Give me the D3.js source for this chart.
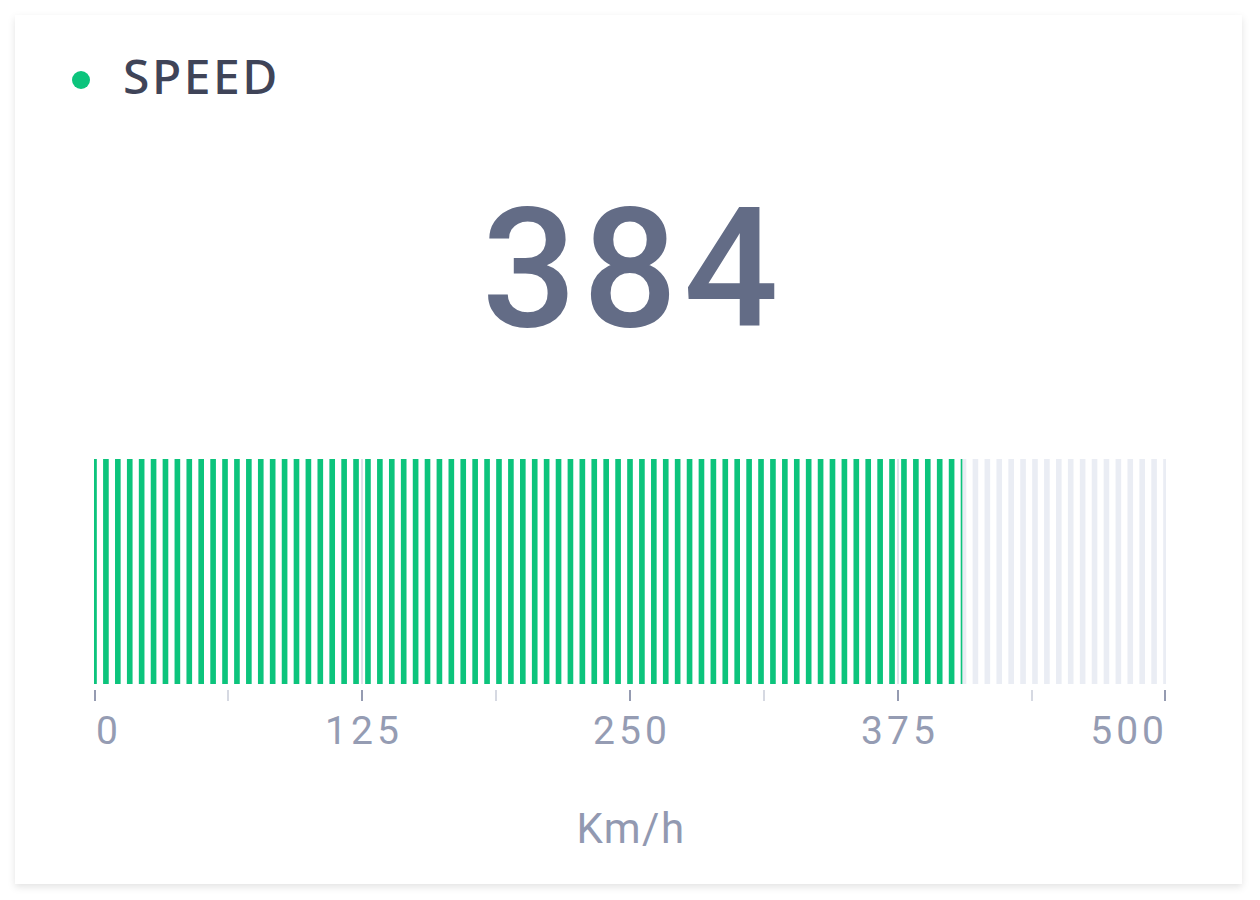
<!DOCTYPE html>
<html>
<head>
<meta charset="utf-8">
<script src="https://cdn.jsdelivr.net/npm/d3@7"></script>
<style>
  html, body { margin: 0; padding: 0; background: #ffffff; }
  svg { display: block; }
</style>
</head>
<body>
<div id="chart"></div>
<script>
// gauge data
var title = "SPEED";
var unit = "Km/h";
var speed = 384;          // readout shown in the card
var barLevel = 405;       // where the green fill stops in the picture
var scaleMax = 500;
var stripeCount = 90;
var majorTicks = [0, 125, 250, 375, 500];
var minorTicks = [62.5, 187.5, 312.5, 437.5];

var width = 1260,
  height = 900;

var svg = d3.select("#chart").append("svg")
  .attr("width", width)
  .attr("height", height);

var defs = svg.append("defs");
var shadow = defs.append("filter")
  .attr("id", "shadow")
  .attr("x", "-5%").attr("y", "-5%")
  .attr("width", "110%").attr("height", "112%");
shadow.append("feDropShadow")
  .attr("dx", 0).attr("dy", 3)
  .attr("stdDeviation", 3.5)
  .attr("flood-color", "#000")
  .attr("flood-opacity", 0.11);

// card
svg.append("rect")
  .attr("x", 15).attr("y", 15)
  .attr("width", 1227).attr("height", 869)
  .attr("fill", "#fff")
  .attr("filter", "url(#shadow)");

// header
svg.append("circle")
  .attr("cx", 81).attr("cy", 80).attr("r", 9)
  .attr("fill", "#0cc47c");
svg.append("text")
  .attr("x", 123).attr("y", 94)
  .attr("font-family", "'Noto Sans', sans-serif")
  .attr("font-weight", 500)
  .attr("font-size", 48)
  .attr("letter-spacing", 2.5)
  .attr("fill", "#3f4458")
  .text(title);

// big readout
svg.append("text")
  .attr("x", 633).attr("y", 326)
  .attr("text-anchor", "middle")
  .attr("font-family", "Roboto, sans-serif")
  .attr("font-weight", 500)
  .attr("font-size", 167)
  .attr("letter-spacing", 6)
  .attr("fill", "#636c86")
  .text(speed);

// bar
var barTop = 459,
  barBottom = 684;
var x = d3.scaleLinear().domain([0, scaleMax]).range([94, 1166]);
var step = scaleMax / stripeCount;
var stripes = d3.range(stripeCount + 1).map(function (i) { return i * step; });
var stripeW = 5.6;

defs.append("clipPath").attr("id", "barClip")
  .append("rect")
  .attr("x", x(0)).attr("y", barTop)
  .attr("width", x(scaleMax) - x(0)).attr("height", barBottom - barTop);
defs.append("clipPath").attr("id", "fillClip")
  .append("rect")
  .attr("x", x(0)).attr("y", barTop)
  .attr("width", x(barLevel) - x(0)).attr("height", barBottom - barTop);

var bar = svg.append("g");

// grid lines at the labelled values
bar.selectAll(".grid")
  .data(majorTicks.slice(1, -1))
  .enter().append("line")
  .attr("class", "grid")
  .attr("x1", function (d) { return x(d); })
  .attr("x2", function (d) { return x(d); })
  .attr("y1", barTop).attr("y2", barBottom)
  .attr("stroke", "#dfe2ea")
  .attr("stroke-width", 2);

bar.append("g").attr("clip-path", "url(#barClip)")
  .selectAll("rect")
  .data(stripes)
  .enter().append("rect")
  .attr("x", function (d) { return x(d) - stripeW / 2; })
  .attr("y", barTop)
  .attr("width", stripeW)
  .attr("height", barBottom - barTop)
  .attr("fill", "#eaedf4");

bar.append("g").attr("clip-path", "url(#fillClip)")
  .append("g").attr("clip-path", "url(#barClip)")
  .selectAll("rect")
  .data(stripes)
  .enter().append("rect")
  .attr("x", function (d) { return x(d) - stripeW / 2; })
  .attr("y", barTop)
  .attr("width", stripeW)
  .attr("height", barBottom - barTop)
  .attr("fill", "#0cc47c");

// axis
var axisG = svg.append("g").attr("transform", "translate(0," + 690 + ")");

axisG.selectAll(".minor")
  .data(minorTicks)
  .enter().append("line")
  .attr("class", "minor")
  .attr("x1", function (d) { return x(d); })
  .attr("x2", function (d) { return x(d); })
  .attr("y1", 0).attr("y2", 11)
  .attr("stroke", "#d6d9e2")
  .attr("stroke-width", 2);

axisG.selectAll(".major")
  .data(majorTicks)
  .enter().append("line")
  .attr("class", "major")
  .attr("x1", function (d, i) { return x(d) + (i === 0 ? 1 : i === majorTicks.length - 1 ? -1 : 0); })
  .attr("x2", function (d, i) { return x(d) + (i === 0 ? 1 : i === majorTicks.length - 1 ? -1 : 0); })
  .attr("y1", 0).attr("y2", 11)
  .attr("stroke", "#959bb1")
  .attr("stroke-width", 2);

axisG.selectAll(".label")
  .data(majorTicks)
  .enter().append("text")
  .attr("class", "label")
  .attr("x", function (d) { return x(d) + 2; })
  .attr("y", 54)
  .attr("text-anchor", function (d, i) {
    return i === 0 ? "start" : i === majorTicks.length - 1 ? "end" : "middle";
  })
  .attr("font-family", "Roboto, sans-serif")
  .attr("font-size", 39)
  .attr("letter-spacing", 4)
  .attr("fill", "#959cb3")
  .text(function (d) { return d; });

// unit
svg.append("text")
  .attr("x", 631).attr("y", 843)
  .attr("text-anchor", "middle")
  .attr("font-family", "Roboto, sans-serif")
  .attr("font-size", 42)
  .attr("letter-spacing", 1.5)
  .attr("fill", "#9299b1")
  .text(unit);
</script>
</body>
</html>
